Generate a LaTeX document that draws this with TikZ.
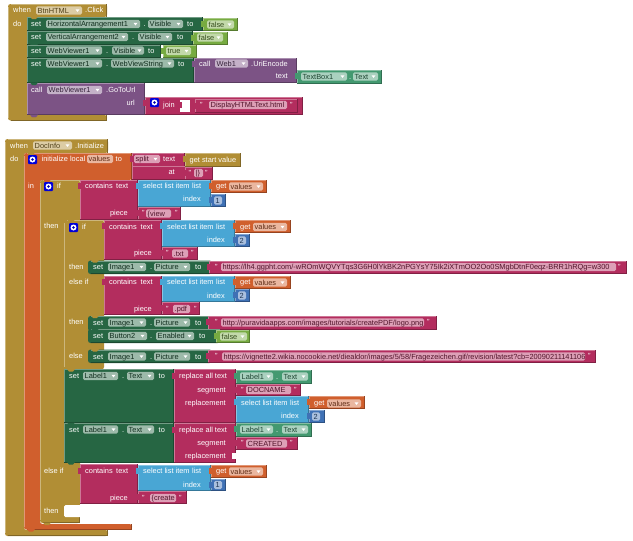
\documentclass[tikz,border=0pt]{standalone}
\usepackage{fontspec}
\setmainfont{Liberation Sans}
\definecolor{gd}{HTML}{B18E35}
\definecolor{grn}{HTML}{266643}
\definecolor{pur}{HTML}{7C5385}
\definecolor{cri}{HTML}{B32D5E}
\definecolor{blu}{HTML}{49A6D4}
\definecolor{org}{HTML}{D05F2D}
\definecolor{num}{HTML}{3F71B5}
\definecolor{lgc}{HTML}{77AB41}
\definecolor{mnt}{HTML}{439970}
\newcounter{nct}
\tikzset{
  wtxt/.style={text=white,inner sep=0pt,font=\fontsize{7.4}{8}\selectfont,anchor=base west},
  wtxr/.style={text=white,inner sep=0pt,font=\fontsize{7.4}{8}\selectfont,anchor=base east},
  ftxt/.style={inner sep=0pt,font=\fontsize{7.4}{8}\selectfont,anchor=base west},
}
% block: colour, x1,y1,x2,y2
\newcommand{\blk}[5]{%
  \fill[#1] (#2,#3) rectangle (#4,#5);
  \draw[#1!65!white,line width=.6pt] (#2+.3,#5) -- (#2+.3,#3+.3) -- (#4,#3+.3);
  \draw[#1!72!black,line width=.6pt] (#2,#5-.3) -- (#4-.3,#5-.3) -- (#4-.3,#3);
}
% statement block with rounded left corners
\newcommand{\blr}[5]{%
  \fill[#1,rounded corners=2.5pt] (#2,#3) rectangle (#4,#5);
  \draw[#1!65!white,line width=.6pt] (#2+3,#3+.3) -- (#4,#3+.3);
  \draw[#1!72!black,line width=.6pt] (#2+3,#5-.3) -- (#4-.3,#5-.3);
}
% hat or C shaped block: colour,x1,y1,x2,ytop bar end,xarm,ybar start,ybar end
\newcommand{\cblk}[8]{%
  \fill[#1,rounded corners=2.5pt] (#2,#3) -- (#4,#3) -- (#4,#5) -- (#6,#5) -- (#6,#7) -- (#4,#7) -- (#4,#8) -- (#2,#8) -- cycle;
  \draw[#1!65!white,line width=.6pt] (#2+.3,#8-3) -- (#2+.3,#3+3) (#2+3,#3+.3) -- (#4,#3+.3);
  \draw[#1!72!black,line width=.6pt] (#2+3,#8-.3) -- (#4-.3,#8-.3) -- (#4-.3,#7);
  \draw[#1!72!black,line width=.6pt] (#4-.3,#3) -- (#4-.3,#5);
}
% value-block tab on the left side of a block
\newcommand{\tb}[3]{\fill[#1] (#2-2.5,#3+3) rectangle (#2+.5,#3+9);}
% statement bump under a block
\newcommand{\bmp}[3]{\fill[#1] (#2+3,#3-.5) -- (#2+5,#3+2) -- (#2+9,#3+2) -- (#2+11,#3-.5) -- cycle;}
% labels (x, y centre)
\newcommand{\lb}[3]{\stepcounter{nct}\node[wtxt] (n\thenct) at (#1,#2+2.6) {#3};}
\newcommand{\lr}[3]{\stepcounter{nct}\node[wtxr] (n\thenct) at (#1,#2+2.6) {#3};}
% field without dropdown: colour,x1,x2,y,text
\newcommand{\fn}[5]{\stepcounter{nct}%
  \fill[white!55!#1,rounded corners=1.6pt] (#2,#4-4.2) rectangle (#3,#4+4.2);
  \node[ftxt,text=#1!45!black] (n\thenct) at (#2+1.5,#4+2.6) {#5};}
% field with dropdown triangle
\newcommand{\fd}[5]{\fn{#1}{#2}{#3}{#4}{#5}%
  \fill[white] (#3-6.5,#4-1.2) -- (#3-2.5,#4-1.2) -- (#3-4.5,#4+1.4) -- cycle;}
% mutator icon
\newcommand{\gr}[2]{\fill[blue!85!black,rounded corners=1pt] (#1,#2) rectangle (#1+9,#2+9);
  \fill[white] (#1+4.5,#2+4.5) circle (3pt); \fill[blue!70!black] (#1+4.5,#2+4.5) circle (1.4pt);}
% get values
\newcommand{\getv}[3]{\blk{org}{#1}{#2}{#3}{#2+13}\tb{org}{#1}{#2}}
\begin{document}
\begin{tikzpicture}[x=1pt,y=-1pt]
\useasboundingbox (0,0) rectangle (633,541);
\fill[white] (0,0) rectangle (633,541);
% ===== BtnHTML.Click =====
\cblk{gd}{8}{4}{107}{17}{27}{115}{120.5}
\bmp{pur}{27}{115}
\lb{13}{10}{when}\fd{gd}{36}{82}{10.5}{BtnHTML}\lb{85}{10}{.Click}
\lb{13}{24}{do}
% row 1
\blk{grn}{27}{17}{203}{31}\bmp{gd}{27}{17}\bmp{grn}{27}{31}
\lb{31}{24}{set}\fd{grn}{46}{140}{24}{HorizontalArrangement1}\lb{143.5}{24}{.}\fd{grn}{148}{183}{24}{Visible}\lb{187}{24}{to}
\blk{lgc}{203}{18}{238}{31}\tb{lgc}{203}{18}\fd{lgc}{207}{234}{24.5}{false}
% row 2
\blk{grn}{27}{31}{193}{44.5}\bmp{grn}{27}{44.5}
\lb{31}{37}{set}\fd{grn}{46}{128}{37}{VerticalArrangement2}\lb{132}{37}{.}\fd{grn}{138}{172}{37}{Visible}\lb{177}{37}{to}
\blk{lgc}{193}{31.5}{228}{44.5}\tb{lgc}{193}{31.5}\fd{lgc}{197}{223}{37.5}{false}
% row 3
\blk{grn}{27}{44.5}{161}{58}\bmp{grn}{27}{58}
\lb{31}{50.5}{set}\fd{grn}{46}{102}{50.5}{WebViewer1}\lb{106}{50.5}{.}\fd{grn}{112}{144}{50.5}{Visible}\lb{148}{50.5}{to}
\blk{lgc}{163}{45}{197}{58}\tb{lgc}{163}{45}\fd{lgc}{166}{191}{51}{true}
% row 4
\blk{grn}{27}{58}{194}{83}\bmp{grn}{27}{83}
\lb{31}{63.5}{set}\fd{grn}{46}{102}{63.5}{WebViewer1}\lb{106}{63.5}{.}\fd{grn}{111}{174}{63.5}{WebViewString}\lb{178}{63.5}{to}
\blk{pur}{194}{57.5}{297}{83}\tb{pur}{194}{58}
\lb{199}{63.5}{call}\fd{pur}{215}{248}{63.5}{Web1}\lb{251}{63.5}{.UriEncode}
\lr{288}{76}{text}
\blk{mnt}{297}{70}{382}{83.5}\tb{mnt}{297}{70}\fd{mnt}{301}{347}{76.5}{TextBox1}\lb{349}{76.5}{.}\fd{mnt}{353}{378}{76.5}{Text}
% call row
\blk{pur}{27}{83}{145}{115}\bmp{grn}{27}{83}\bmp{pur}{27}{115}
\lb{31}{90}{call}\fd{pur}{47}{102}{90}{WebViewer1}\lb{106}{90}{.GoToUrl}
\lr{135}{103}{url}
\blk{cri}{145}{96.5}{303}{114.5}\tb{cri}{145}{97}
\gr{150}{98}\lb{163}{105}{join}
\fill[white] (180,99.5) rectangle (190,112);\fill[cri] (178.5,102) rectangle (182,108);
\blk{cri}{195}{99}{298}{113}\tb{cri}{195}{100}
\lb{200}{104.5}{"}\fn{cri}{209}{287}{105}{DisplayHTMLText.html}\lb{290}{104.5}{"}
% ===== DocInfo.Initialize =====
\cblk{gd}{5}{139}{108}{153}{24}{530}{536}
\lb{10}{145.5}{when}\fd{gd}{33}{72}{145.5}{DocInfo}\lb{75}{145.5}{.Initialize}
\lb{10}{159}{do}
% initialize local
\cblk{org}{24}{153}{132}{180}{40}{524}{529.5}
\bmp{gd}{24}{153}\bmp{org}{24}{529.5}
\gr{28}{155}\lb{41.5}{159}{initialize local}\fn{org}{87}{113}{159}{values}\lb{115.5}{159}{to}
\lb{28}{186}{in}
\blk{cri}{132}{153}{185}{167}\tb{cri}{132}{153}
\blk{cri}{132}{166}{213}{180}
\fd{cri}{134}{160}{159}{split}\lb{163}{159}{text}
\blk{gd}{185}{153}{241}{166.5}\tb{gd}{185}{153}\lb{189.5}{159.5}{get start value}
\lr{175}{172}{at}
\blk{cri}{185}{167}{213}{179.5}\tb{cri}{185}{167}
\lb{188.5}{172.5}{"}\fn{cri}{194}{203}{173}{|\}}\lb{205}{172.5}{"}
% outer if
\fill[gd,rounded corners=2.5pt] (40,180) rectangle (80,523);
\draw[gd!65!white,line width=.6pt] (40.3,183) -- (40.3,520);
\draw[gd!65!white,line width=.6pt] (43,180.3) -- (80,180.3);
\draw[gd!72!black,line width=.6pt] (43,522.7) -- (79.7,522.7) -- (79.7,517);
\fill[white,rounded corners=1.5pt] (64,505) rectangle (84,517);
\fill[white] (80,504) rectangle (84,524);
\bmp{org}{40}{180}\bmp{gd}{40}{523}
\gr{44}{182}\lb{57}{186}{if}
\lb{44}{226}{then}
\lb{44}{471}{else if}
\lb{44}{511}{then}
% contains 1
\blk{cri}{80}{180}{138}{220}\tb{cri}{80}{180}
\lb{85}{186}{contains}\lb{116}{186}{text}\lr{128}{213}{piece}
\blk{blu}{138}{180}{211}{207}\tb{blu}{138}{180}
\lb{143}{186}{select list item}\lb{192}{186}{list}\lr{201}{199}{index}
\getv{211}{180}{267}\lb{216}{186}{get}\fd{org}{229}{263}{186.5}{values}
\blk{num}{211}{194}{226}{207}\tb{num}{211}{194}\fn{num}{214}{222}{200.5}{1}
\blk{cri}{138}{207}{181}{220}\tb{cri}{138}{207}
\lb{142}{213}{"}\fn{cri}{146}{171}{213.5}{\{view}\lb{175}{213}{"}
% inner if
\fill[gd,rounded corners=2.5pt] (64,220) rectangle (104,369.5);
\draw[gd!65!white,line width=.6pt] (67,220.3) -- (104,220.3);
\draw[gd!65!white,line width=.6pt] (64.3,223) -- (64.3,367);
\bmp{gd}{64}{220}
\gr{69}{223}\lb{82}{226.5}{if}
\lb{69}{266.5}{then}\lb{69}{282}{else if}\lb{69}{322}{then}\lb{69}{356}{else}
% contains 2
\blk{cri}{104}{220}{162}{260}\tb{cri}{104}{220}
\lb{109}{226.5}{contains}\lb{140.5}{226.5}{text}\lr{152}{253}{piece}
\blk{blu}{162}{220}{235}{247}\tb{blu}{162}{220}
\lb{167}{226.5}{select list item}\lb{216}{226.5}{list}\lr{225}{240}{index}
\getv{235}{220}{291}\lb{240}{226.5}{get}\fd{org}{253}{287}{227}{values}
\blk{num}{235}{234}{250}{247}\tb{num}{235}{234}\fn{num}{238}{246}{240.5}{2}
\blk{cri}{162}{247}{198}{260}\tb{cri}{162}{247}
\lb{166}{253}{"}\fn{cri}{172}{188}{253.5}{.txt}\lb{191}{253}{"}
% then image
\blr{grn}{88}{260.5}{212}{274}\bmp{gd}{88}{260.5}
\lb{93}{267}{set}\fd{grn}{108}{146}{267}{Image1}\lb{150}{267}{.}\fd{grn}{154}{190}{267}{Picture}\lb{195}{267}{to}
\blk{cri}{209}{260.5}{627}{274}\tb{cri}{209}{261}
\lb{215}{266.5}{"}\fn{cri}{221}{616}{267}{https://lh4.ggpht.com/-wROmWQVYTqs3G6H0lYkBK2nPGYsY75Ik2iXTmOO2Oo0SMgbDtnF0eqz-BRR1hRQg=w300}\lb{618}{266.5}{"}
% contains 3
\blk{cri}{104}{276}{162}{315}\tb{cri}{104}{276}
\lb{109}{282}{contains}\lb{140.5}{282}{text}\lr{152}{309}{piece}
\blk{blu}{162}{276}{235}{302}\tb{blu}{162}{276}
\lb{167}{282}{select list item}\lb{216}{282}{list}\lr{225}{295.5}{index}
\getv{235}{276}{291}\lb{240}{282}{get}\fd{org}{253}{287}{282.5}{values}
\blk{num}{235}{289}{250}{302}\tb{num}{235}{289}\fn{num}{238}{246}{295.5}{2}
\blk{cri}{162}{302}{200}{315}\tb{cri}{162}{302}
\lb{166}{308.5}{"}\fn{cri}{173}{190}{309}{.pdf}\lb{194}{308.5}{"}
% then: image + button
\blr{grn}{88}{316}{212}{331}\bmp{gd}{88}{316}
\lb{93}{322.5}{set}\fd{grn}{108}{146}{322.5}{Image1}\lb{150}{322.5}{.}\fd{grn}{154}{190}{322.5}{Picture}\lb{195}{322.5}{to}
\blk{cri}{208}{316}{437}{329.5}\tb{cri}{208}{316}
\blr{grn}{88}{329}{220}{343}\bmp{grn}{88}{329}
\lb{93}{336}{set}\fd{grn}{108}{147}{336}{Button2}\lb{150}{336}{.}\fd{grn}{156}{194}{336}{Enabled}\lb{199}{336}{to}
\lb{215}{322}{"}\fn{cri}{221}{424}{322.5}{http://puravidaapps.com/images/tutorials/createPDF/logo.png}\lb{427}{322}{"}
\blk{lgc}{216}{330}{250}{343}\tb{lgc}{216}{330}\fd{lgc}{220}{247}{336.5}{false}
% else image
\blr{grn}{88}{349.5}{212}{363}\bmp{gd}{88}{349.5}
\lb{93}{356.5}{set}\fd{grn}{108}{146}{356.5}{Image1}\lb{150}{356.5}{.}\fd{grn}{154}{190}{356.5}{Picture}\lb{195}{356.5}{to}
\blk{cri}{208}{349.5}{596}{363}\tb{cri}{208}{350}
\lb{215}{356}{"}\fn{cri}{222}{585}{356.5}{https://vignette2.wikia.nocookie.net/diealdor/images/5/58/Fragezeichen.gif/revision/latest?cb=20090211141106}\lb{588}{356}{"}
% set label 1
\blk{grn}{64}{369}{174}{423}\bmp{gd}{64}{369.5}
\lb{69}{376}{set}\fd{grn}{83}{118}{376}{Label1}\lb{122}{376}{.}\fd{grn}{127}{154}{376}{Text}\lb{158.5}{376}{to}
\blk{cri}{174}{369}{236}{423}\tb{cri}{174}{370}
\lb{179}{376}{replace all text}\lr{226}{390}{segment}\lr{226}{403}{replacement}
\blk{mnt}{236}{370}{312}{383.5}\tb{mnt}{236}{370}\fd{mnt}{240}{273}{376.5}{Label1}\lb{276}{376.5}{.}\fd{mnt}{282}{308}{376.5}{Text}
\blk{cri}{236}{383.5}{301}{396}\tb{cri}{236}{384}
\lb{241}{389.5}{"}\fn{cri}{246}{291}{390}{DOCNAME}\lb{294}{389.5}{"}
\blk{blu}{236}{396}{309}{423}\tb{blu}{236}{396}
\lb{241}{403}{select list item}\lb{290}{403}{list}\lr{299}{416}{index}
\getv{309}{396}{365}\lb{314}{403}{get}\fd{org}{327}{361}{403.5}{values}
\blk{num}{309}{410}{325}{423}\tb{num}{309}{410}\fn{num}{312}{320}{416.5}{2}
% set label 2
\blk{grn}{64}{423}{174}{462.5}\bmp{grn}{64}{423}\bmp{grn}{64}{462.5}
\lb{69}{429.5}{set}\fd{grn}{83}{118}{429.5}{Label1}\lb{122}{429.5}{.}\fd{grn}{127}{154}{429.5}{Text}\lb{158.5}{429.5}{to}
\blk{cri}{174}{423}{236}{462.5}\tb{cri}{174}{424}
\lb{179}{429.5}{replace all text}\lr{226}{443}{segment}\lr{226}{456}{replacement}
\fill[white] (232,453) rectangle (236.5,459);
\blk{mnt}{236}{423}{312}{436.5}\tb{mnt}{236}{423}\fd{mnt}{240}{273}{429.5}{Label1}\lb{276}{429.5}{.}\fd{mnt}{282}{308}{429.5}{Text}
\blk{cri}{236}{436.5}{298}{449.5}\tb{cri}{236}{437}
\lb{241}{443}{"}\fn{cri}{246}{287}{443.5}{CREATED}\lb{290}{443}{"}
% contains 4
\blk{cri}{80}{464}{138}{504}\tb{cri}{80}{465}
\lb{85}{471}{contains}\lb{116}{471}{text}\lr{128}{498}{piece}
\blk{blu}{138}{465}{211}{491}\tb{blu}{138}{465}
\lb{143}{471}{select list item}\lb{192}{471}{list}\lr{201}{484.5}{index}
\getv{211}{465}{267}\lb{216}{471}{get}\fd{org}{229}{263}{471.5}{values}
\blk{num}{211}{479}{226}{491}\tb{num}{211}{479}\fn{num}{214}{222}{485}{1}
\blk{cri}{138}{491}{187}{504}\tb{cri}{138}{491}
\lb{142}{497.5}{"}\fn{cri}{150}{176}{498}{\{create}\lb{179}{497.5}{"}
\end{tikzpicture}
\end{document}
